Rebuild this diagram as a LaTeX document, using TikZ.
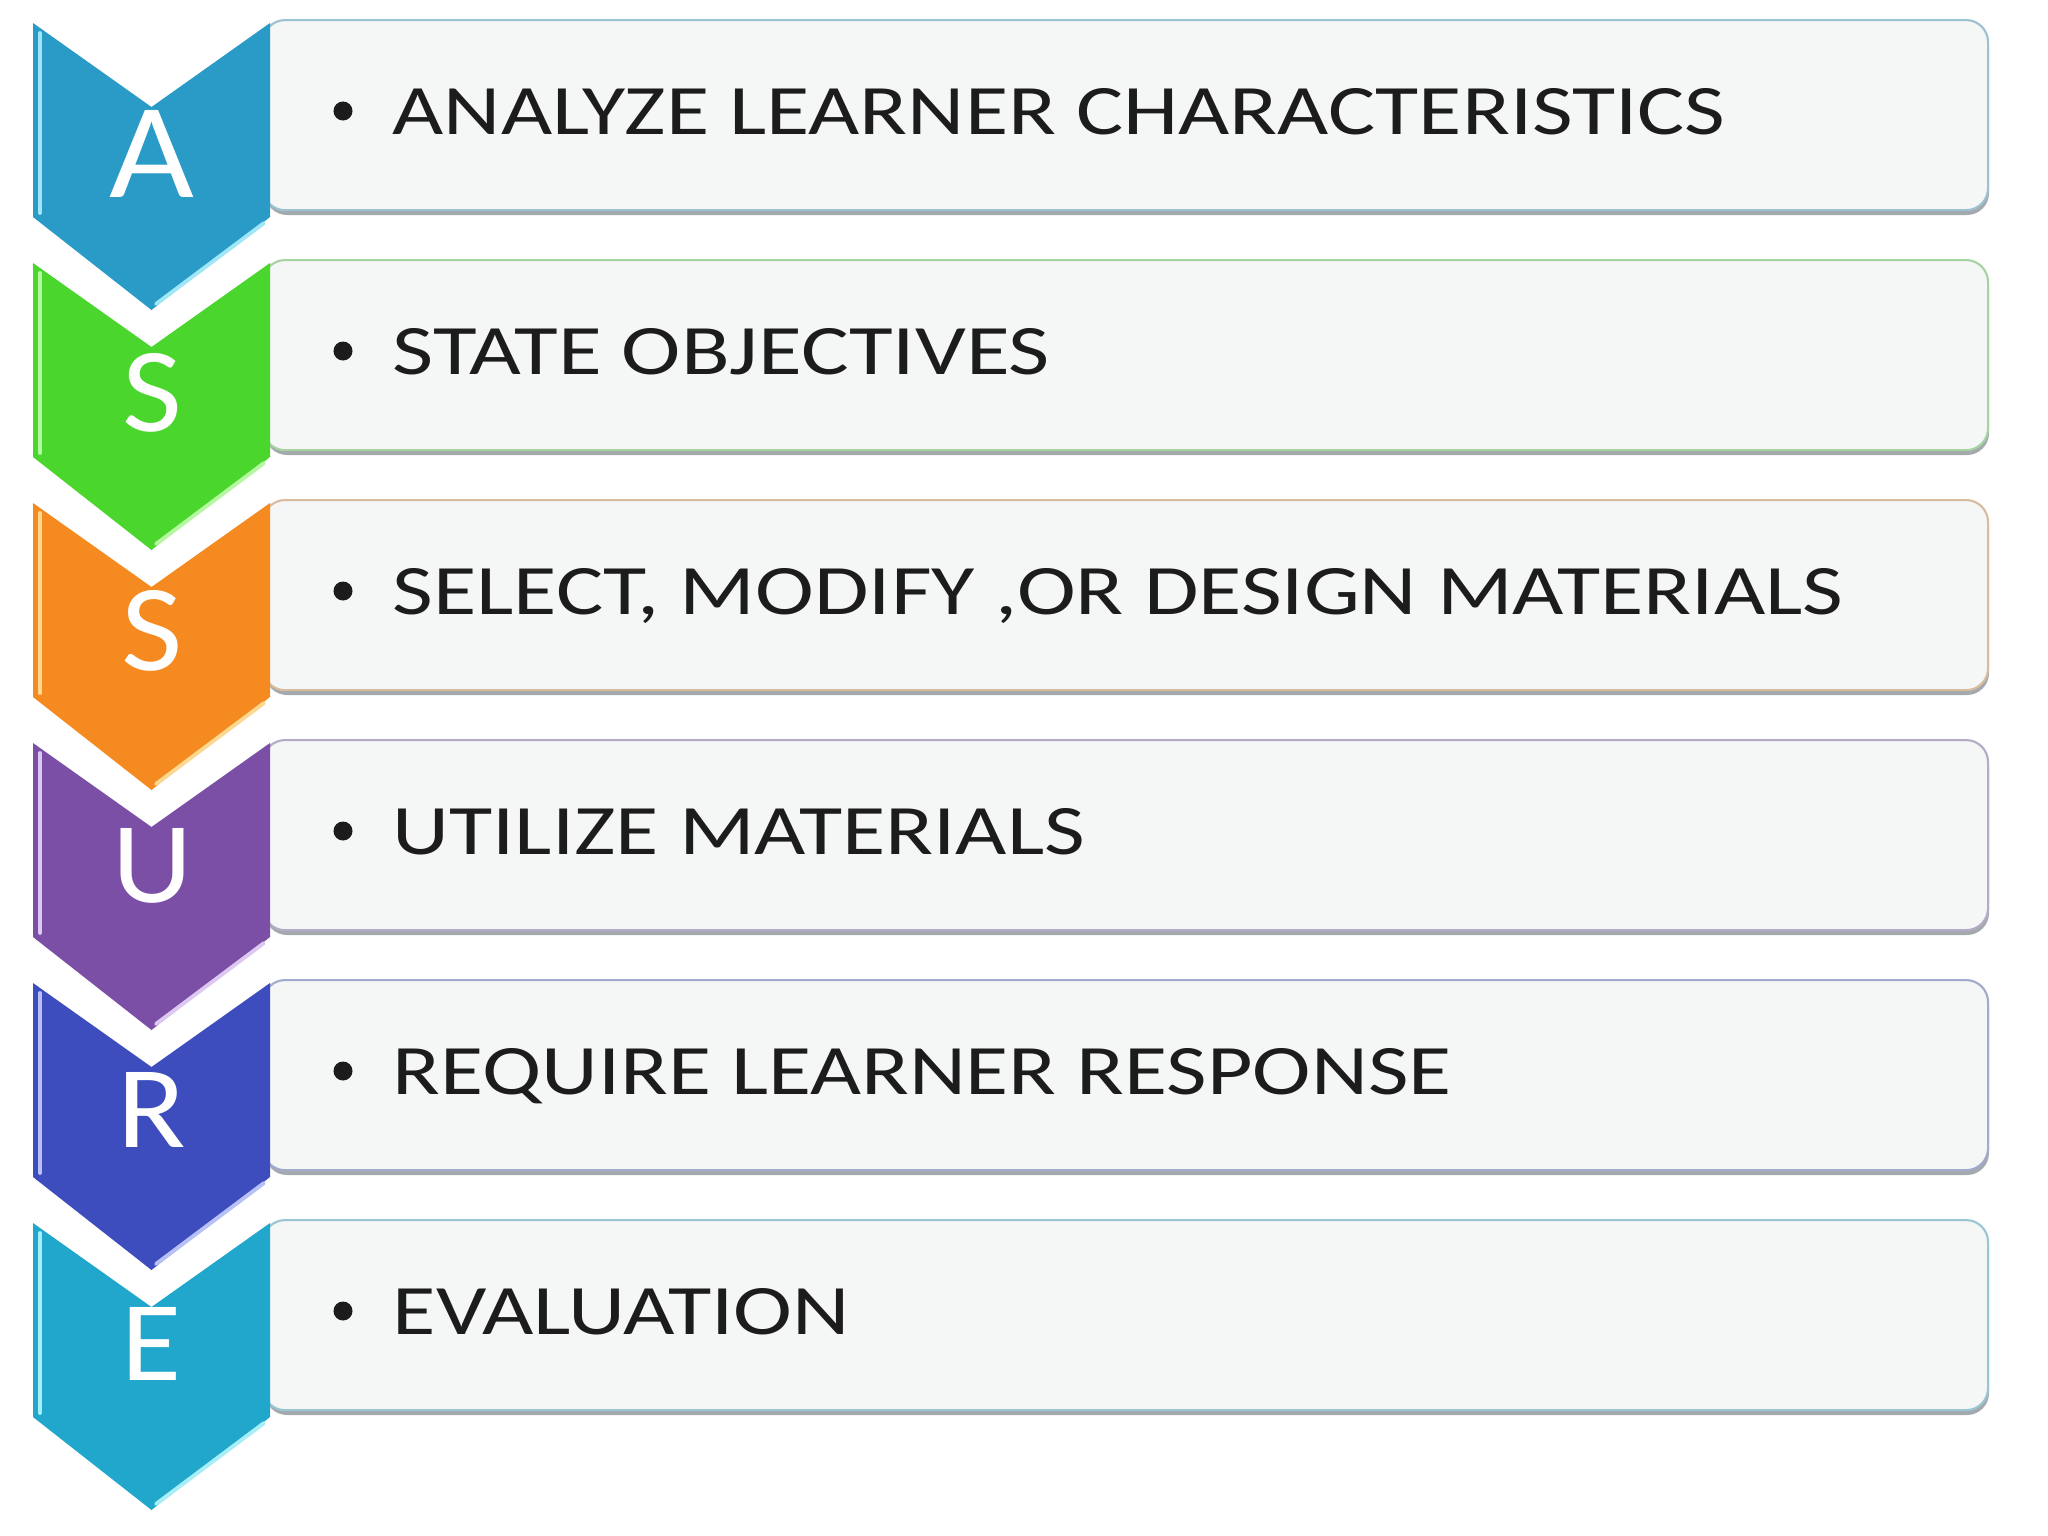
\documentclass[tikz,border=0pt]{standalone}
\usepackage{fontspec}
\setmainfont{Carlito}
\definecolor{cA}{HTML}{2A9AC6}
\definecolor{cS}{HTML}{4BD62E}
\definecolor{cO}{HTML}{F48A20}
\definecolor{cU}{HTML}{7B4FA6}
\definecolor{cR}{HTML}{3D4DBE}
\definecolor{cE}{HTML}{22A7CC}
\definecolor{hA}{HTML}{9FE6F7}
\definecolor{hS}{HTML}{B4F8A0}
\definecolor{hO}{HTML}{FFD890}
\definecolor{hU}{HTML}{DCC8F2}
\definecolor{hR}{HTML}{B8C0F8}
\definecolor{hE}{HTML}{A6EEF8}
\definecolor{boxfill}{HTML}{F5F6F6}
\definecolor{shadowc}{HTML}{A3A9AC}
\definecolor{textc}{HTML}{1C1C1C}
\definecolor{boxline}{HTML}{CDD2D4}
\begin{document}
\begin{tikzpicture}[x=0.01cm,y=-0.01cm,
  listbox/.style={draw=#1!30!boxline, line width=0.6pt, fill=boxfill, rounded corners=0.22cm,
    minimum width=17.24cm, minimum height=1.90cm, inner sep=0pt, anchor=north west},
  boxshadow/.style={fill=shadowc, rounded corners=0.22cm},
  chevfill/.style={fill=#1},
  chevhl/.style={draw=#1, line width=1.1pt, line cap=round},
  letterlbl/.style={text=white, inner sep=0pt, anchor=base},
  itemtext/.style={text=textc, inner sep=0pt, anchor=base west},
  bulletdot/.style={circle, fill=textc, minimum size=0.19cm, inner sep=0pt}]
\path[use as bounding box, fill=white] (0,0) rectangle (2048,1536);
\foreach \i/\L/\c/\h/\txt/\w/\lh/\lb in {
  0/A/cA/hA/{ANALYZE LEARNER CHARACTERISTICS}/13.32/0.87/174,
  1/S/cS/hS/{STATE OBJECTIVES}/6.57/0.78/168,
  2/S/cO/hO/{SELECT, MODIFY ,OR DESIGN MATERIALS}/14.50/0.80/167,
  3/U/cU/hU/{UTILIZE MATERIALS}/6.92/0.74/159,
  4/R/cR/hR/{REQUIRE LEARNER RESPONSE}/10.58/0.75/164,
  5/E/cE/hE/{EVALUATION}/4.57/0.73/157}{
  \pgfmathsetmacro\yt{23+240*\i}
  % box with shadow
  \fill[boxshadow] (265,\yt+1) rectangle (1989,\yt+192);
  \node[listbox=\c] (box\i) at (262,\yt-4) {};
  % chevron
  \fill[chevfill=\c] (33,\yt) -- (151.5,\yt+84) -- (270,\yt) -- (270,\yt+194)
     -- (151.5,\yt+287) -- (33,\yt+194) -- cycle;
  \draw[chevhl=\h] (40,\yt+10) -- (40,\yt+190);
  \draw[chevhl=\h] (264,\yt+200) -- (156,\yt+281);
  % letter
  \node[letterlbl] (let\i) at (152,\yt+\lb) {\resizebox{!}{\lh cm}{\scalebox{1.08}[1]{\L}}};
  % bullet and text
  \node[bulletdot] (dot\i) at (343,\yt+88) {};
  \node[itemtext] (txt\i) at (392,\yt+111) {\resizebox{\w cm}{0.46cm}{\txt}};
}
\end{tikzpicture}
\end{document}
